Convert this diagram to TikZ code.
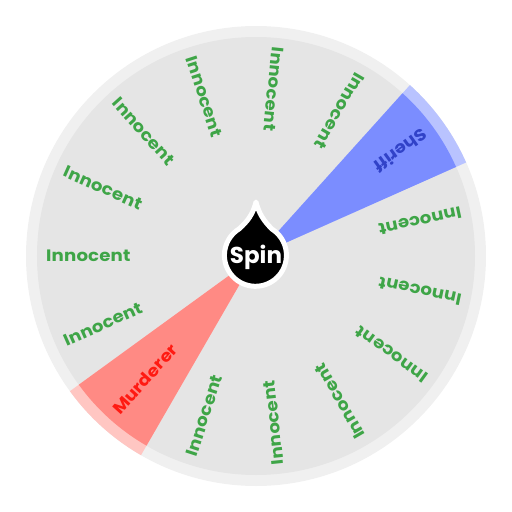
\documentclass[tikz,border=0pt]{standalone}
\usepackage{fontspec}
\setmainfont{Poppins}
\newfontfamily\wheelfont[LetterSpace=1,FakeStretch=1.1]{Poppins}
\definecolor{rimgrey}{HTML}{F0F0F0}
\definecolor{diskgrey}{HTML}{E5E5E5}
\definecolor{innogreen}{HTML}{3EA547}
\definecolor{sherifffill}{HTML}{7B8DFF}
\definecolor{sheriffrim}{HTML}{B9C3FF}
\definecolor{sheriffink}{HTML}{3142C8}
\definecolor{murderfill}{HTML}{FF8A84}
\definecolor{murderrim}{HTML}{FFC6C2}
\definecolor{murderink}{HTML}{FF1A12}

\begin{document}
\begin{tikzpicture}[x=1pt,y=1pt,
    lbl/.style={inner sep=0pt,anchor=west,font=\wheelfont\fontsize{16.5}{16.5}\selectfont\bfseries},
    spintext/.style={inner sep=0pt,anchor=base,text=white,font=\fontsize{23}{23}\selectfont\bfseries}
  ]
  \useasboundingbox (-256,-256) rectangle (256,256);
  % wheel
  \fill[rimgrey] (0,0) circle (230);
  \fill[diskgrey] (0,0) circle (219);
  \fill[sheriffrim] (0,0) -- (24:230) arc (24:48:230) -- cycle;
  \fill[sherifffill] (0,0) -- (24:219) arc (24:48:219) -- cycle;
  \fill[murderrim] (0,0) -- (216:230) arc (216:240:230) -- cycle;
  \fill[murderfill] (0,0) -- (216:219) arc (216:240:219) -- cycle;
  % labels
  \foreach \a/\t/\c in {12/Innocent/innogreen,36/Sheriff/sheriffink,60/Innocent/innogreen,
      84/Innocent/innogreen,108/Innocent/innogreen,132/Innocent/innogreen,
      156/Innocent/innogreen,180/Innocent/innogreen,204/Innocent/innogreen,
      228/Murderer/murderink,252/Innocent/innogreen,276/Innocent/innogreen,
      300/Innocent/innogreen,324/Innocent/innogreen,348/Innocent/innogreen}
    \node[lbl,text=\c,rotate=\a+180] (lbl\a) at (\a:210) {\t};
  % spin button
  \filldraw[fill=black,draw=white,line width=5pt,line join=round]
    (0,54) .. controls (-3,42) and (-8,35) .. (-17,27)
    arc[start angle=122,end angle=418,radius=31]
    .. controls (8,35) and (3,42) .. (0,54) -- cycle;
  \node[spintext] (spin) at (0,-7) {Spin};
\end{tikzpicture}
\end{document}
